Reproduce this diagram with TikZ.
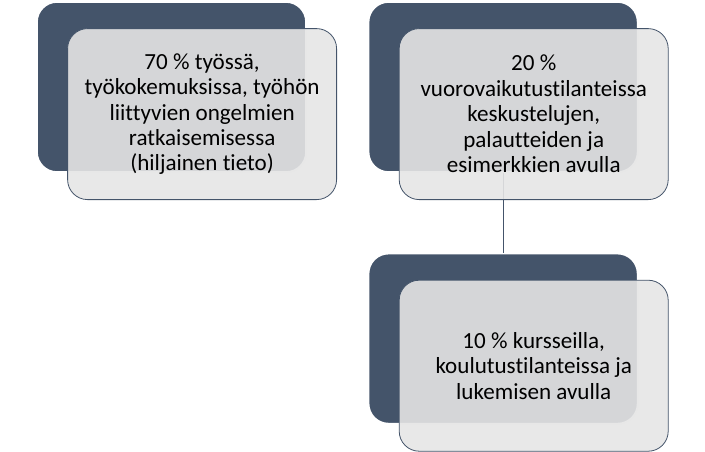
\documentclass[tikz,border=0pt]{standalone}
\usepackage{fontspec}
\setmainfont{Carlito}[Ligatures=NoCommon]
\usetikzlibrary{positioning}
\definecolor{slate}{HTML}{44546A}
\definecolor{paper}{RGB}{229,229,229}

\tikzset{
  back/.style={fill=slate,draw=white,line width=1.2pt,rounded corners=15pt,
    minimum width=201.75pt,minimum height=127.5pt,inner sep=0pt},
  front/.style={fill=paper,fill opacity=0.9,text opacity=1,draw=slate,line width=0.6pt,
    rounded corners=15pt,minimum width=201.75pt,minimum height=128.25pt,inner sep=0pt,
    align=center,font=\fontsize{17.3}{19.1}\selectfont},
  link/.style={draw=slate,line width=0.6pt}
}

\begin{document}
\begin{tikzpicture}[x=0.75pt,y=-0.75pt]
		\useasboundingbox (0,0) rectangle (705,451);
		%left pair
		\node[back] (dark1) at (171.5,87) {};
		\node[front,below right=20.25pt and 23.25pt of dark1.north west,anchor=north west] (work)
			{70 \% työssä,\\ työkokemuksissa, työhön\\ liittyvien ongelmien\\ ratkaisemisessa\\ (hiljainen tieto)};
		%right pair
		\node[back,right=45.75pt of dark1] (dark2) {};
		%link down
		\node[back,below=60pt of dark2] (dark3) {};
		\draw[link] (dark2.south) -- (dark3.north);
		\node[front,below right=20.25pt and 23.25pt of dark2.north west,anchor=north west] (talk)
			{20 \%\\ vuorovaikutustilanteissa\\ keskustelujen,\\ palautteiden ja\\ esimerkkien avulla};
		%bottom pair
		\node[front,below right=20.25pt and 23.25pt of dark3.north west,anchor=north west] (course)
			{10 \% kursseilla,\\ koulutustilanteissa ja\\ lukemisen avulla};
	\end{tikzpicture}
\end{document}
